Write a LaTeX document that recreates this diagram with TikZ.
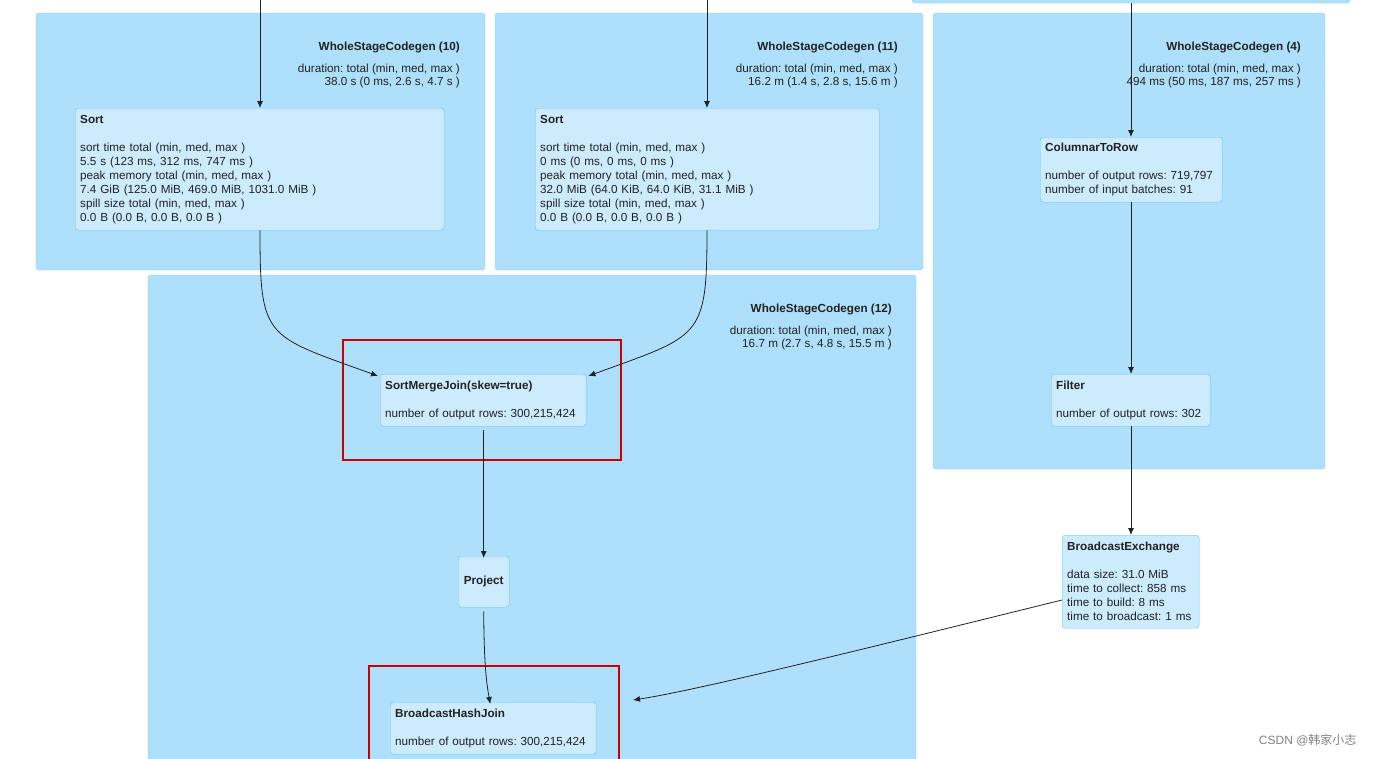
\documentclass[tikz,border=0pt]{standalone}
\usepackage{fontspec}
\setmainfont{Liberation Sans}
\newfontfamily\cjk{Noto Sans CJK SC}
\usetikzlibrary{arrows.meta}
\definecolor{clusterfill}{HTML}{AEE0FB}
\definecolor{clusterline}{HTML}{7FCFF5}
\definecolor{opfill}{HTML}{CCEBFD}
\definecolor{opline}{HTML}{5CC3F2}
\definecolor{txt}{HTML}{222222}
\frenchspacing
\begin{document}
\begin{tikzpicture}[x=1pt,y=-1pt,font=\fontsize{11.7}{14}\selectfont,text=txt]
  \tikzset{
    cluster/.style={draw=clusterline,fill=clusterfill,rounded corners=3pt},
    clabel/.style={anchor=north east,align=right,inner sep=0pt},
    op/.style={draw=opline,fill=opfill,rounded corners=3pt,anchor=north west,
      align=left,inner sep=5pt,minimum height=#1},
    flow/.style={-{Latex[length=7pt,width=6pt]},txt,line width=0.8pt},
    redbox/.style={draw=red!80!black,line width=1.5pt}
  }
  \useasboundingbox (0,0) rectangle (1374,758);
  % clusters
  \draw[cluster] (912,-10) rectangle (1350,3);
  \draw[cluster] (36,13) rectangle (485,270);
  \draw[cluster] (495,13) rectangle (923,270);
  \draw[cluster] (933,13) rectangle (1325,469);
  \draw[cluster] (148,275) rectangle (916,770);
  \node[clabel] (l10) at (460,42) {\textbf{WholeStageCodegen (10)}\\[8pt]duration: total (min, med, max )\\[-1pt]38.0 s (0 ms, 2.6 s, 4.7 s )};
  \node[clabel] (l11) at (898,42) {\textbf{WholeStageCodegen (11)}\\[8pt]duration: total (min, med, max )\\[-1pt]16.2 m (1.4 s, 2.8 s, 15.6 m )};
  \node[clabel] (l4) at (1301,42) {\textbf{WholeStageCodegen (4)}\\[8pt]duration: total (min, med, max )\\[-1pt]494 ms (50 ms, 187 ms, 257 ms )};
  \node[clabel] (l12) at (892,304) {\textbf{WholeStageCodegen (12)}\\[8pt]duration: total (min, med, max )\\[-1pt]16.7 m (2.7 s, 4.8 s, 15.5 m )};
  % operators
  \node[op=122pt,text width=359pt] (sort1) at (75,108) {\textbf{Sort}\\[14pt]sort time total (min, med, max )\\5.5 s (123 ms, 312 ms, 747 ms )\\peak memory total (min, med, max )\\7.4 GiB (125.0 MiB, 469.0 MiB, 1031.0 MiB )\\spill size total (min, med, max )\\0.0 B (0.0 B, 0.0 B, 0.0 B )};
  \node[op=122pt,text width=334pt] (sort2) at (535,108) {\textbf{Sort}\\[14pt]sort time total (min, med, max )\\0 ms (0 ms, 0 ms, 0 ms )\\peak memory total (min, med, max )\\32.0 MiB (64.0 KiB, 64.0 KiB, 31.1 MiB )\\spill size total (min, med, max )\\0.0 B (0.0 B, 0.0 B, 0.0 B )};
  \node[op=65pt,text width=172pt] (c2r) at (1040,137) {\textbf{ColumnarToRow}\\[14pt]number of output rows: 719,797\\number of input batches: 91};
  \node[op=52pt,text width=149pt] (filter) at (1051,374) {\textbf{Filter}\\[14pt]number of output rows: 302};
  \node[op=93pt,text width=127pt] (bex) at (1062,535) {\textbf{BroadcastExchange}\\[14pt]data size: 31.0 MiB\\time to collect: 858 ms\\time to build: 8 ms\\time to broadcast: 1 ms};
  \node[op=52pt,text width=196pt] (smj) at (380,374) {\textbf{SortMergeJoin(skew=true)}\\[14pt]number of output rows: 300,215,424};
  \node[op=51pt,minimum width=51pt,align=center] (proj) at (458,556) {\textbf{Project}};
  \node[op=52pt,text width=196pt] (bhj) at (390,702) {\textbf{BroadcastHashJoin}\\[14pt]number of output rows: 300,215,424};
  % highlights
  \draw[redbox] (343,340) rectangle (621,460);
  \draw[redbox] (369,666) rectangle (619,770);
  % edges
  \coordinate (in1) at (260,-5);
  \coordinate (in2) at (707,-5);
  \coordinate (in3) at (1131,3);
  \draw[flow] (in1) -- (sort1.north -| in1);
  \draw[flow] (in2) -- (sort2.north -| in2);
  \draw[flow] (in3) -- (c2r.north -| in3);
  \draw[flow] (c2r.south -| in3) -- (filter.north -| in3);
  \draw[flow] (filter.south -| in3) -- (bex.north -| in3);
  \draw[flow] (sort1.south -| in1) .. controls (260,340) and (265,335) .. ([xshift=-2pt,yshift=-2pt]smj.north west);
  \draw[flow] (sort2.south -| in2) .. controls (707,340) and (700,335) .. ([xshift=2pt,yshift=-2pt]smj.north east);
  \draw[flow] ([yshift=-4pt]smj.south -| proj.north) -- ([yshift=-2pt]proj.north);
  \draw[flow] ([yshift=-4pt]proj.south) .. controls (484,660) and (486,680) .. ([xshift=-3pt,yshift=-2pt]bhj.north);
  \draw[flow] (bex.west |- 0,600) .. controls (900,640) and (700,690) .. (633,700);
  \node[text=gray,font=\fontsize{12}{14}\selectfont,anchor=east] (wm) at (1360,740) {CSDN @{\cjk 韩家小志}};
\end{tikzpicture}
\end{document}
